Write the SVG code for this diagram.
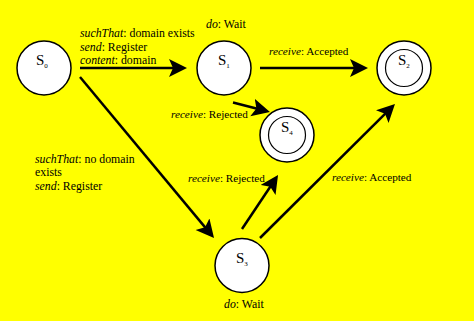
<svg xmlns="http://www.w3.org/2000/svg" width="474" height="321" viewBox="0 0 474 321">
<defs>
<style>
.bg{fill:#ffff00}
.st{fill:#ffffff;stroke:#000000;stroke-width:1.5}
.in{fill:none;stroke:#000000;stroke-width:1.2}
.lbl{font-family:"Liberation Serif","Times New Roman",serif;font-size:15px;fill:#000000}
.sub{font-size:7px}
.t{font-family:"Liberation Serif","Times New Roman",serif;font-size:11.8px;fill:#000000}
.r{font-size:11.2px}
.i{font-style:italic}
.e{fill:none;stroke:#000000;stroke-width:2.5}
</style>
<marker id="ah" markerUnits="userSpaceOnUse" markerWidth="20" markerHeight="20" refX="10" refY="9" orient="auto" viewBox="0 0 20 20">
<path d="M0,0 L18,9 L0,18 L4,9 z" fill="#000000"/>
</marker>
</defs>
<rect class="bg" x="0" y="0" width="474" height="321"/>
<g id="connectors">
<line class="e" x1="80" y1="68" x2="179" y2="68" marker-end="url(#ah)"/>
<line class="e" x1="260" y1="68" x2="360" y2="68" marker-end="url(#ah)"/>
<line class="e" x1="80" y1="77" x2="208.9" y2="231.9" marker-end="url(#ah)"/>
<line class="e" x1="233" y1="102.5" x2="262.2" y2="110" marker-end="url(#ah)"/>
<line class="e" x1="242" y1="229" x2="273.6" y2="181.7" marker-end="url(#ah)"/>
<line class="e" x1="260" y1="238" x2="389.3" y2="109.6" marker-end="url(#ah)"/>
</g>
<g id="labels">
<text class="t" x="80" y="37"><tspan class="i">suchThat</tspan>: domain exists</text>
<text class="t" x="80" y="51"><tspan class="i">send</tspan>: Register</text>
<text class="t" x="80" y="64"><tspan class="i">content</tspan>: domain</text>
<text class="t" x="206" y="28"><tspan class="i">do</tspan>: Wait</text>
<text class="t r" x="269" y="55"><tspan class="i">receive</tspan>: Accepted</text>
<text class="t r" x="171" y="118"><tspan class="i">receive</tspan>: Rejected</text>
<text class="t r" x="188" y="182"><tspan class="i">receive</tspan>: Rejected</text>
<text class="t r" x="332" y="181"><tspan class="i">receive</tspan>: Accepted</text>
<text class="t" x="35" y="163"><tspan class="i">suchThat</tspan>: no domain</text>
<text class="t" x="35" y="176">exists</text>
<text class="t" x="35" y="190"><tspan class="i">send</tspan>: Register</text>
<text class="t" x="224" y="308"><tspan class="i">do</tspan>: Wait</text>
</g>
<g id="S0">
<circle class="st" cx="44" cy="68" r="27"/>
<text class="lbl" x="36" y="65">S<tspan class="sub" dy="3">0</tspan></text>
</g>
<g id="S1">
<circle class="st" cx="224" cy="68" r="27"/>
<text class="lbl" x="218" y="65">S<tspan class="sub" dy="3">1</tspan></text>
</g>
<g id="S2">
<circle class="st" cx="404" cy="68" r="27"/>
<circle class="in" cx="404" cy="68" r="18.5"/>
<text class="lbl" x="398" y="65">S<tspan class="sub" dy="3">2</tspan></text>
</g>
<g id="S4">
<circle class="st" cx="287" cy="135" r="27"/>
<circle class="in" cx="287" cy="135" r="18.5"/>
<text class="lbl" x="281" y="132">S<tspan class="sub" dy="3">4</tspan></text>
</g>
<g id="S3">
<circle class="st" cx="242" cy="265.5" r="27"/>
<text class="lbl" x="236" y="262.5">S<tspan class="sub" dy="3">3</tspan></text>
</g>
</svg>
